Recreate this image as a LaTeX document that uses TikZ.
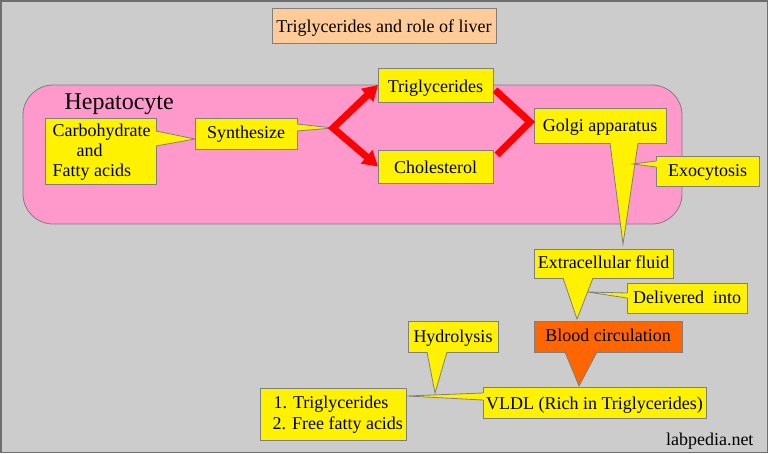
\documentclass[tikz,border=0pt]{standalone}
\usepackage{fontspec}
\setmainfont{Liberation Serif}
\usetikzlibrary{arrows.meta,calc}

\definecolor{slidegrey}{HTML}{CCCCCC}
\definecolor{framegrey}{HTML}{6E6E6E}
\definecolor{rimgrey}{HTML}{7F7F7F}
\definecolor{cellpink}{HTML}{FF99CC}
\definecolor{peach}{HTML}{FFCC99}
\definecolor{bloodorange}{HTML}{FF6600}

\newcommand\slidefont{\rmfamily\fontsize{18}{20}\selectfont}

\tikzset{
  rim/.style={draw=rimgrey,line width=0.8pt},
  note/.style={rim,fill=yellow,inner sep=0pt,outer sep=0pt},
  slidetext/.style={font=\slidefont,anchor=base},
  linetext/.style={font=\slidefont,anchor=base west},
  redpath/.style={draw=red,line width=7pt,line join=miter},
}

% callout tail: base start, base end, tip, inward shift
\newcommand\calltail[5][yellow]{%
  \fill[#1] (#2) ++#5 -- (#2) -- (#4) -- (#3) -- ++#5 -- cycle;
  \draw[rim,line join=miter] (#2) -- (#4) -- (#3);}

\begin{document}
\begin{tikzpicture}[x=1pt,y=-1pt]

% ------------------------------------------------------------------
% Slide background, frame and title
% ------------------------------------------------------------------
\fill[slidegrey] (0,0) rectangle (768,453);
\useasboundingbox (0,0) rectangle (768,453);
\draw[framegrey,line width=1.5pt] (0.75,0.75) rectangle (767.25,452.25);

\node[note,fill=peach,minimum width=224pt,minimum height=35pt] (title)
  at (384,25.5) {};
\node[slidetext] (title-t) at ($(title)+(0,6.8)$) {Triglycerides and role of liver};

% ------------------------------------------------------------------
% The liver cell
% ------------------------------------------------------------------
\node[rim,fill=cellpink,rounded corners=30pt,minimum width=659pt,
  minimum height=139pt,outer sep=0pt] (cell) at (352.5,154.5) {};
\node[font=\slidefont,anchor=base west] (heplabel)
  at (61,109) {\scalebox{1.333}{Hepatocyte}};

\node[note,minimum width=111pt,minimum height=66pt] (carb) at (100.5,151) {};
\node[note,minimum width=102pt,minimum height=31pt] (synth) at (246,133.5) {};
\coordinate (fork) at (333,128);

\calltail{$(carb.east)+(0,-20)$}{$(carb.east)+(0,-5)$}{$(synth.west)+(0,5.5)$}{(-1.5,0)}
\calltail{$(synth.east)+(0,-9.5)$}{$(synth.east)+(0,-2.5)$}{fork}{(-1.5,0)}

\node[linetext] (carb-t1) at (49,136.7) {Carbohydrate};
\node[linetext] (carb-t2) at (73,156.7) {and};
\node[linetext] (carb-t3) at (49,176.7) {Fatty acids};
\node[slidetext] (synth-t) at ($(synth)+(0,5)$) {Synthesize};

\node[note,minimum width=115pt,minimum height=34pt] (trig) at (435.5,85) {};
\node[note,minimum width=115pt,minimum height=33pt] (chol) at (435.5,166.5) {};
\node[note,minimum width=132pt,minimum height=35pt] (golgi) at (600,125.5) {};
\node[slidetext] (trig-t) at ($(trig)+(0,7)$) {Triglycerides};
\node[slidetext] (chol-t) at ($(chol)+(0,6.5)$) {Cholesterol};
\node[slidetext] (golgi-t) at ($(golgi)+(0,6)$) {Golgi apparatus};

% red arrows in and out of the two products
\draw[redpath,{Triangle[length=15pt,width=17pt]}-{Triangle[length=15pt,width=17pt]}]
  (trig.west) -- (fork) -- (chol.west);
\draw[redpath] ($(trig.east)+(2,5)$) -- ($(golgi.west)+(-4,-3.5)$)
  -- ($(chol.east)+(4,-11.5)$);

% ------------------------------------------------------------------
% Export out of the cell
% ------------------------------------------------------------------
\node[note,minimum width=139pt,minimum height=29pt] (ecf) at (603.5,263.5) {};
\calltail{$(golgi.south)+(10,0)$}{$(golgi.south)+(38,0)$}{$(ecf.north)+(19.5,-5)$}{(0,-1.5)}
\node[slidetext] (ecf-t) at ($(ecf)+(0,5)$) {Extracellular fluid};

\node[note,minimum width=103pt,minimum height=30pt] (exo) at (707.5,171) {};
\calltail{$(exo.west)+(0,-10)$}{$(exo.west)+(0,-4)$}{633,164}{(1.5,0)}
\node[slidetext] (exo-t) at ($(exo)+(0,5.7)$) {Exocytosis};

\node[note,fill=bloodorange,minimum width=148pt,minimum height=31pt] (blood)
  at (608,336.5) {};
\calltail{$(ecf.south)+(-40.5,0)$}{$(ecf.south)+(-10.5,0)$}{$(blood.north)+(-31,-2)$}{(0,-1.5)}
\node[slidetext] (blood-t) at ($(blood)+(0,5.2)$) {Blood circulation};

\node[note,minimum width=120pt,minimum height=30pt] (deliv) at (687,298) {};
\calltail{$(deliv.west)+(0,-5)$}{$(deliv.west)+(0,0)$}{588,292}{(1.5,0)}
\node[slidetext] (deliv-t) at ($(deliv)+(0,5.3)$) {Delivered\ \ into};

% ------------------------------------------------------------------
% VLDL in the blood
% ------------------------------------------------------------------
\node[note,minimum width=146pt,minimum height=52pt] (prod) at (333,414) {};
\node[note,minimum width=223pt,minimum height=31pt] (vldl) at (594.5,402.5) {};
\calltail{$(vldl.west)+(0,-9.5)$}{$(vldl.west)+(0,-2.5)$}{$(prod.east)+(1,-18)$}{(1.5,0)}
\node[linetext] (prod-t1) at (270,408) {1. Triglycerides};
\node[linetext] (prod-t2) at (269,429) {2. Free fatty acids};
\node[slidetext] (vldl-t) at ($(vldl)+(0,7.2)$) {VLDL (Rich in Triglycerides)};

\calltail[bloodorange]{$(blood.south)+(-43,0)$}{$(blood.south)+(-11,0)$}{$(vldl.north)+(-15.5,-1)$}{(0,-1.5)}

\node[note,minimum width=90pt,minimum height=31pt] (hydro) at (453,336.5) {};
\calltail{$(hydro.south)+(-26,0)$}{$(hydro.south)+(-6,0)$}{435,393}{(0,-1.5)}
\node[slidetext] (hydro-t) at ($(hydro)+(0,6)$) {Hydrolysis};

\node[font=\slidefont,anchor=base east] (site) at (757,445) {labpedia.net};

\end{tikzpicture}
\end{document}
